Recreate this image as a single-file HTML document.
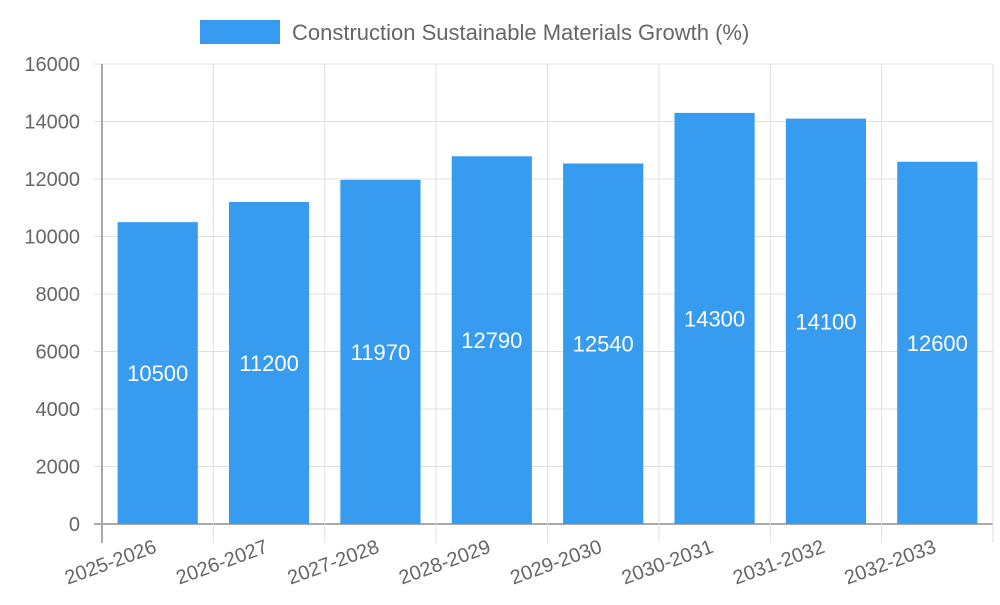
<!DOCTYPE html>
<html><head><meta charset="utf-8"><style>
body{margin:0;background:#fff;width:1000px;height:600px;overflow:hidden}
svg{font-family:"Liberation Sans",sans-serif}
</style></head><body>
<svg id="c" width="1000" height="600">
<rect x="200" y="20" width="80" height="24" fill="#379bf0"/>
<text x="292" y="40" font-size="22" fill="#666">Construction Sustainable Materials Growth (%)</text>
</svg>
<script>
const categories=["2025-2026","2026-2027","2027-2028","2028-2029","2029-2030","2030-2031","2031-2032","2032-2033"];
const values=[10500,11200,11970,12790,12540,14300,14100,12600];
const yTicks=[0,2000,4000,6000,8000,10000,12000,14000,16000];
const svg=document.getElementById('c');
const NS='http://www.w3.org/2000/svg';
const L=102,R=993,T=64,B=524,yMax=16000;
const cw=(R-L)/categories.length;
const y=v=>B-(v/yMax)*(B-T);
const x=i=>L+cw*i;
function mk(t,a){const e=document.createElementNS(NS,t);for(const k in a)e.setAttribute(k,a[k]);svg.appendChild(e);return e;}
yTicks.forEach(t=>{
  const g=mk('line',{x1:L-8,x2:R,y1:y(t),y2:y(t),stroke:t===0?'#aaa':'#e0e0e0','stroke-width':t===0?2:1});
  
  
  const tx=mk('text',{x:L-22,y:y(t)+7,'text-anchor':'end','font-size':20,fill:'#666'});
  tx.textContent=t;
  
  
});
for(let i=0;i<=categories.length;i++){
  const g=mk('line',{x1:x(i),x2:x(i),y1:T,y2:B+19,stroke:i===0?'#aaa':'#e0e0e0','stroke-width':i===0?2:1});
  
  
}
categories.forEach((c,i)=>{
  const cx=x(i)+cw/2,bw=cw*0.72;
  const b=mk('rect',{x:cx-bw/2,y:y(values[i]),width:bw,height:B-y(values[i]),fill:'#379bf0'});
  
  
  const v=mk('text',{x:cx,y:(y(values[i])+B)/2+8,'text-anchor':'middle','font-size':22,fill:'#fff'});
  v.textContent=values[i];
  
  
  const t=mk('text',{x:cx,y:552,'text-anchor':'end','font-size':20,fill:'#666',transform:`rotate(-20 ${cx} 552)`});
  t.textContent=c;
  
  
});
</script>
</body></html>
